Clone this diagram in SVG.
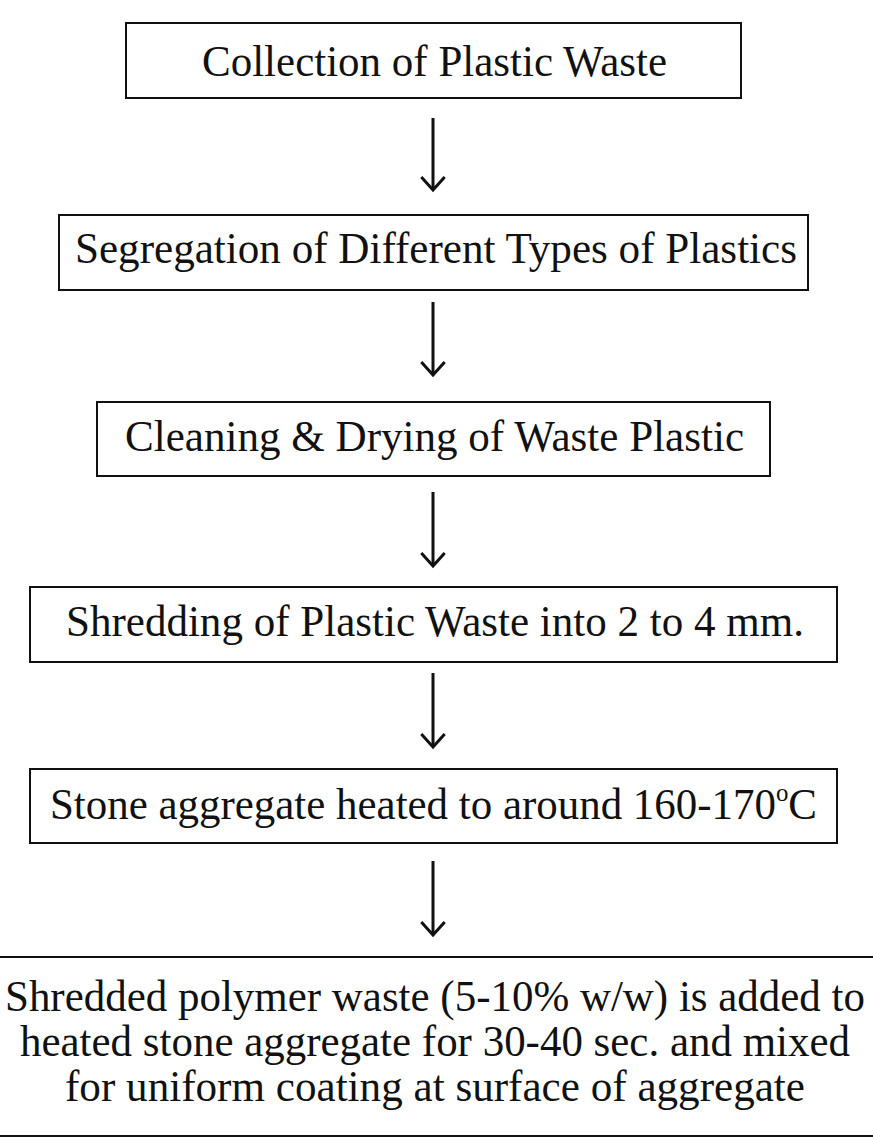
<svg xmlns="http://www.w3.org/2000/svg" width="873" height="1142" viewBox="0 0 873 1142">
<style>
rect{fill:#fff;stroke:#111;stroke-width:2}
text{font-family:"Liberation Serif",serif;font-size:45px;fill:#111}
.c line{stroke:#111;stroke-width:3;fill:none}
</style>
<defs><marker id="a" viewBox="0 0 20 20" refX="18" refY="10" markerWidth="26" markerHeight="26" markerUnits="userSpaceOnUse" orient="auto"><path d="M8,1 L18,10 L8,19" fill="none" stroke="#111" stroke-width="2.3"/></marker></defs>
<rect width="873" height="1142" style="stroke:none"/>
<g id="n1"><rect x="126" y="23" width="615" height="75"/><text x="202" y="76" textLength="465" lengthAdjust="spacingAndGlyphs">Collection of Plastic Waste</text></g>
<g id="n2"><rect x="59" y="215" width="749" height="75"/><text x="75" y="263" textLength="722" lengthAdjust="spacingAndGlyphs">Segregation of Different Types of Plastics</text></g>
<g id="n3"><rect x="97" y="402" width="673" height="74"/><text x="125" y="451" textLength="619" lengthAdjust="spacingAndGlyphs">Cleaning &amp; Drying of Waste Plastic</text></g>
<g id="n4"><rect x="30" y="587" width="807" height="75"/><text x="66" y="636" textLength="738" lengthAdjust="spacingAndGlyphs">Shredding of Plastic Waste into 2 to 4 mm.</text></g>
<g id="n5"><rect x="30" y="769" width="807" height="74"/><text x="50" y="819" textLength="767" lengthAdjust="spacingAndGlyphs">Stone aggregate heated to around 160-170<tspan font-size="26" dy="-18">o</tspan><tspan dy="18">C</tspan></text></g>
<g id="n6"><line x1="0" y1="957" x2="873" y2="957" stroke="#111" stroke-width="2"/><line x1="0" y1="1136" x2="873" y2="1136" stroke="#111" stroke-width="2"/>
<text x="5" y="1011" textLength="860" lengthAdjust="spacingAndGlyphs">Shredded polymer waste (5-10% w/w) is added to</text>
<text x="20" y="1056" textLength="830" lengthAdjust="spacingAndGlyphs">heated stone aggregate for 30-40 sec. and mixed</text>
<text x="65" y="1101" textLength="740" lengthAdjust="spacingAndGlyphs">for uniform coating at surface of aggregate</text></g>
<g class="c" id="connectors">
<line x1="433" y1="118" x2="433" y2="190" marker-end="url(#a)"/>
<line x1="433" y1="302" x2="433" y2="375" marker-end="url(#a)"/>
<line x1="433" y1="492" x2="433" y2="566" marker-end="url(#a)"/>
<line x1="433" y1="673" x2="433" y2="747" marker-end="url(#a)"/>
<line x1="433" y1="861" x2="433" y2="935" marker-end="url(#a)"/>
</g>
</svg>
